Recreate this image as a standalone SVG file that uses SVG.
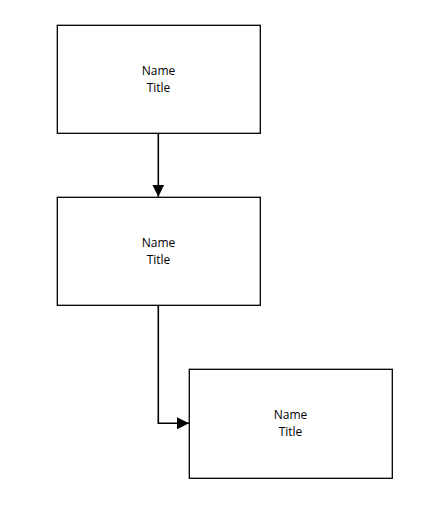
<svg xmlns="http://www.w3.org/2000/svg" width="423" height="518" viewBox="0 0 423 518">
<style>
.box{fill:#fff;stroke:#000;stroke-width:1.3}
.lbl{font-family:"Open Sans","Liberation Sans",sans-serif;font-size:12px;fill:#000;text-anchor:middle}
.conn{fill:none;stroke:#000;stroke-width:1.6}
</style>
<defs>
<marker id="arr" markerUnits="userSpaceOnUse" markerWidth="12" markerHeight="12" refX="12" refY="6" orient="auto">
<path d="M0,0 L12,6 L0,12 Z" fill="#000"/>
</marker>
</defs>
<rect width="423" height="518" fill="#fff"/>
<g id="connectors">
<path class="conn" d="M158.3,133.3 V196.7" marker-end="url(#arr)"/>
<path class="conn" d="M158.3,305.3 V423.3 H189" marker-end="url(#arr)"/>
</g>
<g id="node1">
<rect class="box" x="57.3" y="25.3" width="203" height="108"/>
<text class="lbl" x="158.5" y="75">Name</text>
<text class="lbl" x="158.5" y="92">Title</text>
</g>
<g id="node2">
<rect class="box" x="57.3" y="197.3" width="203" height="108"/>
<text class="lbl" x="158.5" y="247">Name</text>
<text class="lbl" x="158.5" y="264">Title</text>
</g>
<g id="node3">
<rect class="box" x="189.3" y="369.3" width="203" height="109"/>
<text class="lbl" x="290.5" y="419">Name</text>
<text class="lbl" x="290.5" y="436">Title</text>
</g>
</svg>
